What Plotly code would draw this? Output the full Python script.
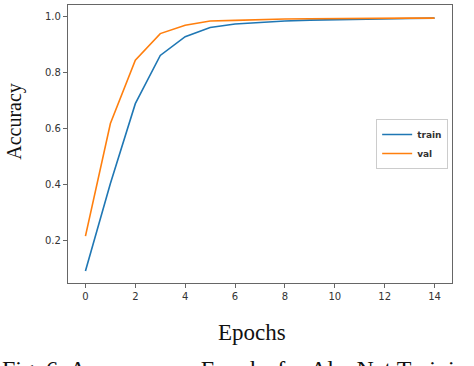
import plotly.graph_objects as go

epochs = list(range(15))
train_acc = [0.093, 0.405, 0.69, 0.862, 0.929, 0.962, 0.974, 0.980, 0.985, 0.988, 0.990, 0.992, 0.993, 0.994, 0.995]
val_acc = [0.217, 0.619, 0.845, 0.940, 0.970, 0.985, 0.987, 0.990, 0.992, 0.993, 0.994, 0.995, 0.995, 0.995, 0.995]
y_ticks = [0.2, 0.4, 0.6, 0.8, 1.0]
x_ticks = [0, 2, 4, 6, 8, 10, 12, 14]

fig = go.Figure()
fig.add_trace(go.Scatter(x=epochs, y=train_acc, mode="lines", name="<b>train</b>",
                         line=dict(color="#1f77b4", width=1.6)))
fig.add_trace(go.Scatter(x=epochs, y=val_acc, mode="lines", name="<b>val</b>",
                         line=dict(color="#ff7f0e", width=1.6)))

axis_common = dict(showline=True, linecolor="#666", linewidth=1.2, mirror=True,
                   ticks="outside", ticklen=4, tickcolor="#666", showgrid=False,
                   zeroline=False, tickfont=dict(family="DejaVu Sans", size=10, color="#333"))
fig.update_xaxes(range=[-0.7, 14.7], tickvals=x_ticks, **axis_common)
fig.update_yaxes(range=[0.05, 1.042], tickvals=y_ticks, tickformat=".1f", **axis_common)

fig.update_layout(
    width=474, height=366,
    margin=dict(l=68, r=22, t=5, b=83),
    plot_bgcolor="white", paper_bgcolor="white",
    showlegend=True,
    legend=dict(x=0.99, y=0.5, xanchor="right", yanchor="middle",
                bgcolor="white", bordercolor="#ccc", borderwidth=1,
                font=dict(family="DejaVu Sans", size=9, color="#333"),
                tracegroupgap=0, itemwidth=30),
    annotations=[
        dict(text="Accuracy", xref="paper", yref="paper", x=-0.138, y=0.58,
             textangle=-90, showarrow=False, xanchor="center", yanchor="middle",
             font=dict(family="Liberation Serif", size=20, color="#111")),
        dict(text="Epochs", xref="paper", yref="paper", x=0.48, y=-0.125,
             showarrow=False, xanchor="center", yanchor="top",
             font=dict(family="Liberation Serif", size=23, color="#111")),
        dict(text="Fig. 6: Accuracy vs. Epochs for AlexNet Training", xref="paper", yref="paper",
             x=-0.178, y=-0.255, showarrow=False, xanchor="left", yanchor="top",
             font=dict(family="Liberation Serif", size=24, color="#111")),
    ],
)

fig.write_html("out.html", config={"displayModeBar": False},
               post_script="document.body.style.margin='0';document.body.style.overflow='hidden';")
